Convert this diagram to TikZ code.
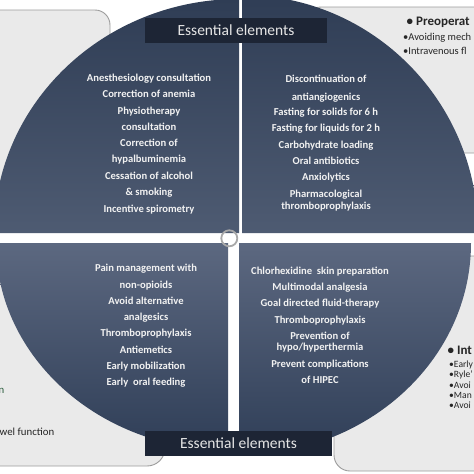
\documentclass[tikz,border=0pt]{standalone}
\usepackage{fontspec}
\setmainfont{Carlito}
\definecolor{boxfill}{HTML}{EAEAEA}
\definecolor{boxedge}{HTML}{9C9C9C}
\definecolor{tqtop}{HTML}{2F3D55}
\definecolor{tqbot}{HTML}{4E5B72}
\definecolor{bqtop}{HTML}{5C6880}
\definecolor{bqbot}{HTML}{2F3E57}
\definecolor{navylabel}{HTML}{1D2535}
\definecolor{labeltext}{HTML}{E6E6E6}
\definecolor{qtext}{HTML}{F2F2F2}
\definecolor{boxtext}{HTML}{262626}
\definecolor{ringgray}{HTML}{A8A8A8}
\definecolor{darkgreen}{HTML}{2D5E3F}
\tikzset{
  graybox/.style={fill=boxfill, draw=boxedge, line width=0.9pt},
  topquad/.style={top color=tqtop, bottom color=tqbot},
  botquad/.style={top color=bqtop, bottom color=bqbot},
  labelbox/.style={fill=navylabel, text=labeltext, minimum height=25pt, inner sep=0pt,
    font=\fontsize{15.5}{18}\selectfont},
  qline/.style={anchor=base, inner sep=0pt, text=qtext, font=\bfseries\fontsize{10.6}{12}\selectfont},
  headline/.style={anchor=base west, inner sep=0pt, text=boxtext, font=\bfseries\fontsize{13}{15}\selectfont},
  boxline/.style={anchor=base west, inner sep=0pt, text=boxtext, font=\fontsize{10.5}{12}\selectfont},
  smallline/.style={anchor=base west, inner sep=0pt, text=boxtext, font=\fontsize{9.6}{11}\selectfont},
}
\begin{document}
\begin{tikzpicture}[x=1pt,y=-1pt]
\useasboundingbox (0,0) rectangle (474,474);
\clip (0,0) rectangle (474,474);
\fill[white] (0,0) rectangle (474,474);
% grey boxes behind the circle
\path[graybox, rounded corners=15pt] (-30,10) rectangle (110,220);
\path[graybox, rounded corners=15pt] (306,7) rectangle (520,153);
\path[graybox, rounded corners=18pt] (-30,262) rectangle (165,466);
\path[graybox, rounded corners=16pt] (334,256) rectangle (520,471);
% quadrants
\path[topquad] (239,233) -- (239,-1) arc[start angle=90, end angle=180, x radius=245pt, y radius=234pt] -- cycle;
\path[topquad] (242,233) -- (242,-5) arc[start angle=90, end angle=0, x radius=236pt, y radius=238pt] -- cycle;
\path[botquad] (228,243) -- (-4,243) arc[start angle=180, end angle=270, x radius=232pt, y radius=207pt] -- cycle;
\path[botquad] (239,243) -- (239,455) arc[start angle=270, end angle=360, x radius=232pt, y radius=212pt] -- cycle;
% hub ring
\node[circle, draw=ringgray, line width=1.8pt, minimum size=16pt, inner sep=0pt] (hub) at (229.3,238.3) {};
% labels
\node[labelbox, minimum width=182pt] (esstop) at (236,30.5) {Essential elements};
\node[labelbox, minimum width=187pt] (essbot) at (238.5,443.5) {Essential elements};
% quadrant texts
\foreach \yy/\txt [count=\i] in {78.3/Anesthesiology consultation, 94.3/Correction of anemia, 110.7/Physiotherapy, 127/consultation, 143.3/Correction of, 159.3/hypalbuminemia, 175.7/Cessation of alcohol, 192/\& smoking, 209/Incentive spirometry}
  \node[qline] (tl\i) at (149,\yy+3.6) {\txt};
\foreach \yy/\txt [count=\i] in {79.3/Discontinuation of, 96.7/antiangiogenics, 112.3/Fasting for solids for 6 h, 128.3/Fasting for liquids for 2 h, 145.3/Carbohydrate loading, 161.3/Oral antibiotics, 177.3/Anxiolytics, 194/Pharmacological, 205.7/thromboprophylaxis}
  \node[qline] (tr\i) at (326,\yy+3.6) {\txt};
\foreach \yy/\txt [count=\i] in {268.3/Pain management with, 284.7/non-opioids, 300.7/Avoid alternative, 317.3/analgesics, 333.3/Thromboprophylaxis, 349.7/Antiemetics, 366.3/Early mobilization, 382.3/Early\ \ oral feeding}
  \node[qline] (bl\i) at (146,\yy+3.6) {\txt};
\foreach \yy/\txt [count=\i] in {270.7/Chlorhexidine\ \ skin preparation, 286.7/Multimodal analgesia, 303.3/Goal directed fluid-therapy, 319.7/Thromboprophylaxis, 335.7/Prevention of, 347.3/{hypo/hyperthermia}, 364/Prevent complications, 380/of HIPEC}
  \node[qline] (br\i) at (320,\yy+3.6) {\txt};
% box texts
\node[headline] (preop) at (406.5,25.2) {• Preoperat};
\node[boxline] (avoidmech) at (403,40.3) {•Avoiding mech};
\node[boxline] (ivfluid) at (403,54.3) {•Intravenous fl};
\node[headline] (intra) at (447.5,354.5) {• Int};
\foreach \yy/\txt [count=\i] in {364/•Early, 374.3/•Ryle’, 384.6/•Avoi, 395/•Man, 405.2/•Avoi}
  \node[smallline] (ib\i) at (449,\yy+3.4) {\txt};
\node[anchor=base east, inner sep=0pt, text=darkgreen, font=\fontsize{10.8}{12}\selectfont] (greenn) at (4.5,393.7) {n};
\node[anchor=base west, inner sep=0pt, text=boxtext, font=\fontsize{10.8}{12}\selectfont] (bowel) at (-0.5,435.3) {wel function};
\end{tikzpicture}
\end{document}
